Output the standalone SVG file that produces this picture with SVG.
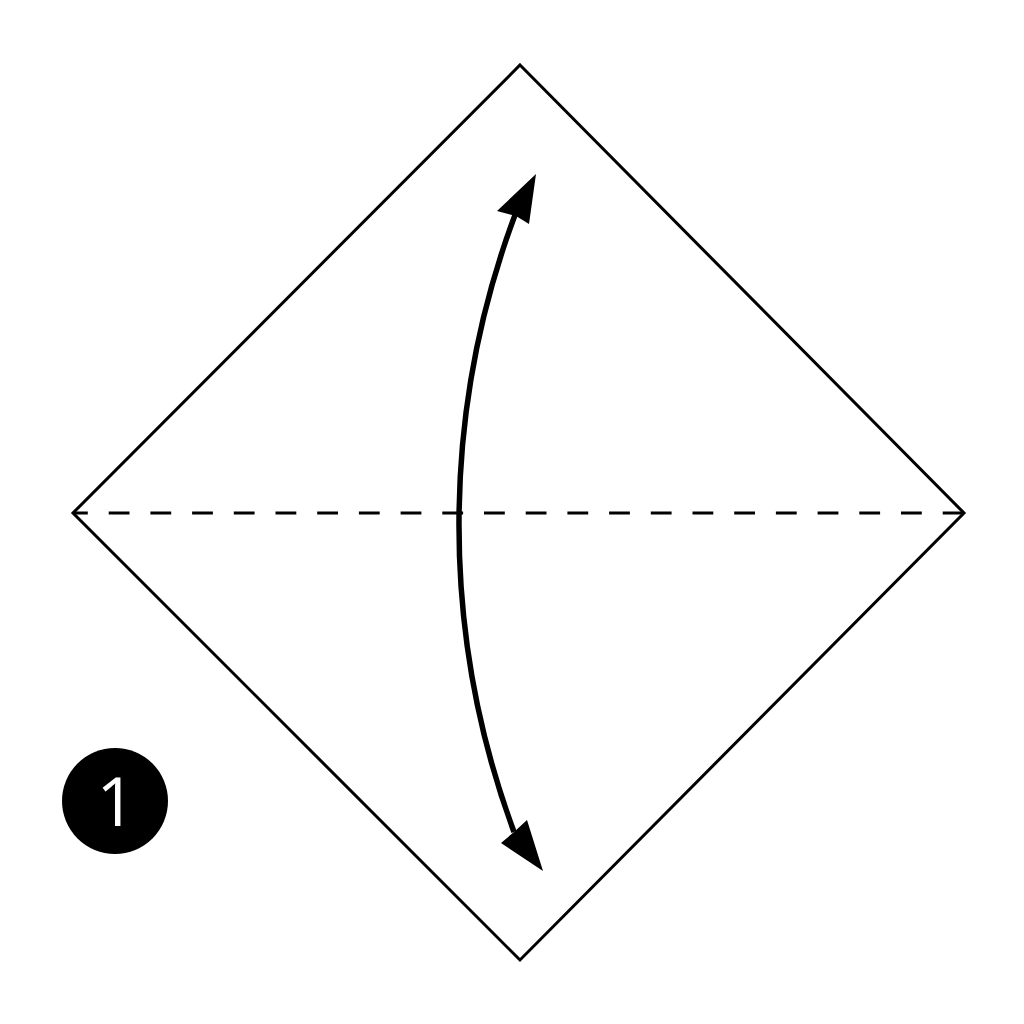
<svg xmlns="http://www.w3.org/2000/svg" width="1024" height="1024" viewBox="0 0 1024 1024">
<style>
.edge{fill:none;stroke:#000;stroke-width:3}
.fold{fill:none;stroke:#000;stroke-width:3;stroke-dasharray:20.8 20.9;stroke-dashoffset:6}
.arc{fill:none;stroke:#000;stroke-width:5.5}
.head{fill:#000}
</style>
<rect width="1024" height="1024" fill="#fff"/>
<g id="paper">
<polygon class="edge" points="520,65 964,513 520,960 73,513"/>
</g>
<g id="connectors">
<line class="fold" x1="73" y1="513" x2="964" y2="513"/>
<path class="arc" d="M 515 215 A 885 885 0 0 0 514 832"/>
<polygon class="head" points="536,174 529,224 516,216 497,211"/>
<polygon class="head" points="543,871 501,843 514,832 527,820"/>
</g>
<g id="step-1">
<circle cx="115" cy="801" r="53" fill="#000"/>
<text x="116" y="826" font-family="'Open Sans', 'Liberation Sans', sans-serif" font-weight="400" font-size="68" fill="#fff" text-anchor="middle">1</text>
</g>
</svg>
